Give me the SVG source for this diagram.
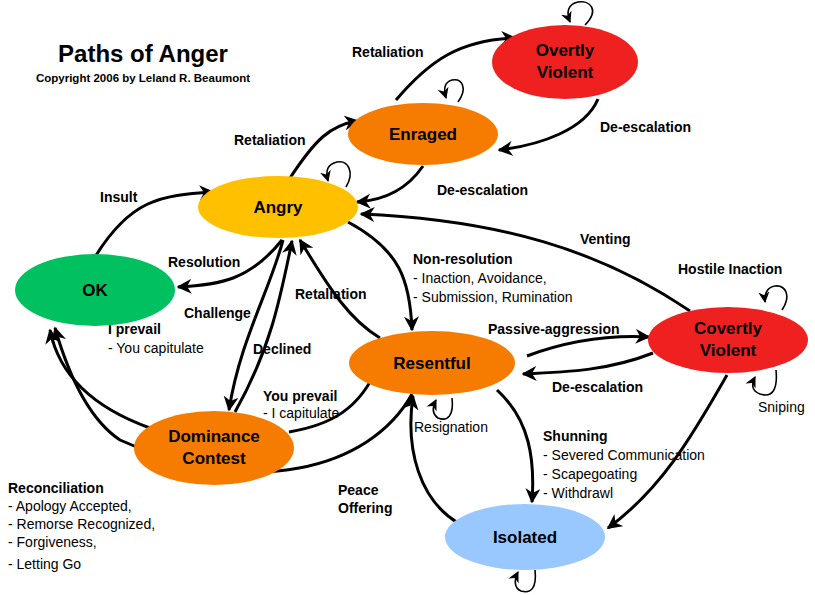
<svg xmlns="http://www.w3.org/2000/svg" width="815" height="595" viewBox="0 0 815 595">
<defs>
<marker id="ah" viewBox="0 0 10 10" refX="9" refY="5" markerWidth="5" markerHeight="5" orient="auto-start-reverse" markerUnits="strokeWidth">
<path d="M0,0 L10,5 L0,10 L3,5 Z" fill="#000"/>
</marker>
<marker id="ahs" viewBox="0 0 10 10" refX="9" refY="5" markerWidth="7" markerHeight="7" orient="auto" markerUnits="strokeWidth">
<path d="M0,0 L10,5 L0,10 L3,5 Z" fill="#000"/>
</marker>
</defs>
<style>
.e{fill:none;stroke:#000;stroke-width:3;marker-end:url(#ah)}
.l{fill:none;stroke:#000;stroke-width:1.6;marker-end:url(#ahs)}
text{font-family:"Liberation Sans",Arial,sans-serif;fill:#000}
.n{font-size:17px;font-weight:bold;text-anchor:middle}
.b{font-size:14px;font-weight:bold}
.r{font-size:14px}
</style>
<rect width="815" height="595" fill="#fff"/>
<text x="143" y="62" font-size="24" font-weight="bold" text-anchor="middle">Paths of Anger</text>
<text x="143" y="82" font-size="11.5" font-weight="bold" text-anchor="middle">Copyright 2006 by Leland R. Beaumont</text>

<g id="connectors">
<path class="e" d="M95,257 C130,200 160,195 213,192"/>
<path class="e" d="M282,240 C250,280 220,285 178,287"/>
<path class="e" d="M290,178 C315,140 330,125 358,121"/>
<path class="e" d="M396,100 C430,60 460,40 515,38"/>
<path class="e" d="M598,99 C585,130 540,145 499,150"/>
<path class="e" d="M423,166 C410,185 390,200 357,202"/>
<path class="e" d="M348,222 C400,250 410,280 412,330"/>
<path class="e" d="M380,338 C350,320 330,290 300,240"/>
<path class="e" d="M283,240 C270,290 240,340 229,410"/>
<path class="e" d="M235,412 C270,350 280,300 292,241"/>
<path class="e" d="M150,428 C100,410 60,380 50,330"/>
<path class="e" d="M289,432 C330,425 360,410 379,364"/>
<path class="e" d="M412,394 C370,470 250,500 120,440 C90,420 70,380 55,328"/>
<path class="e" d="M458,523 C420,500 405,450 413,396"/>
<path class="e" d="M497,390 C530,420 535,460 532,502"/>
<path class="e" d="M727,375 C690,440 660,490 608,528"/>
<path class="e" d="M690,311 C600,250 500,220 361,214"/>
<path class="e" d="M527,356 C570,340 610,335 649,337"/>
<path class="e" d="M653,353 C610,370 570,372 523,374"/>
<path class="l" d="M585,25 C600,10 590,0 578,2 C568,4 566,12 570,22"/>
<path class="l" d="M458,102 C468,88 462,78 452,80 C445,82 443,88 446,98"/>
<path class="l" d="M346,187 C355,172 348,160 337,162 C328,164 325,170 328,181"/>
<path class="l" d="M782,310 C792,295 785,285 775,286 C768,287 764,293 765,302"/>
<path class="l" d="M776,370 C778,390 772,398 760,394 C752,391 751,385 755,377"/>
<path class="l" d="M452,398 C454,415 448,422 438,418 C432,414 432,408 436,400"/>
<path class="l" d="M535,570 C537,588 531,594 521,591 C514,588 514,580 518,572"/>
</g>

<g id="labels">
<text class="b" x="100" y="202">Insult</text>
<text class="b" x="168" y="267">Resolution</text>
<text class="b" x="234" y="145">Retaliation</text>
<text class="b" x="352" y="57">Retaliation</text>
<text class="b" x="600" y="132">De-escalation</text>
<text class="b" x="437" y="195">De-escalation</text>
<text class="b" x="413" y="264">Non-resolution</text>
<text class="r" x="413" y="283">- Inaction, Avoidance,</text>
<text class="r" x="413" y="302">- Submission, Rumination</text>
<text class="b" x="295" y="299">Retaliation</text>
<text class="b" x="184" y="318">Challenge</text>
<text class="b" x="253" y="354">Declined</text>
<text class="b" x="108" y="334">I prevail</text>
<text class="r" x="108" y="353">- You capitulate</text>
<text class="b" x="263" y="401">You prevail</text>
<text class="r" x="263" y="418">- I capitulate</text>
<text class="b" x="8" y="493">Reconciliation</text>
<text class="r" x="8" y="511">- Apology Accepted,</text>
<text class="r" x="8" y="529">- Remorse Recognized,</text>
<text class="r" x="8" y="547">- Forgiveness,</text>
<text class="r" x="8" y="569">- Letting Go</text>
<text class="b" x="338" y="495">Peace</text>
<text class="b" x="338" y="513">Offering</text>
<text class="r" x="414" y="432">Resignation</text>
<text class="b" x="543" y="441">Shunning</text>
<text class="r" x="543" y="460">- Severed Communication</text>
<text class="r" x="543" y="479">- Scapegoating</text>
<text class="r" x="543" y="498">- Withdrawl</text>
<text class="b" x="580" y="244">Venting</text>
<text class="b" x="678" y="274">Hostile Inaction</text>
<text class="r" x="758" y="412">Sniping</text>
<text class="b" x="488" y="334">Passive-aggression</text>
<text class="b" x="552" y="392">De-escalation</text>
</g>

<g id="ok"><ellipse cx="95" cy="290" rx="80" ry="36" fill="#00c060"/><text class="n" x="95" y="296">OK</text></g>
<g id="angry"><ellipse cx="278" cy="207" rx="80" ry="31" fill="#ffc000"/><text class="n" x="278" y="213">Angry</text></g>
<g id="enraged"><ellipse cx="423" cy="134" rx="75" ry="31" fill="#f57c00"/><text class="n" x="423" y="140">Enraged</text></g>
<g id="overtly"><ellipse cx="565" cy="62" rx="73" ry="37" fill="#ee2020"/><text class="n" x="565" y="56">Overtly</text><text class="n" x="565" y="78">Violent</text></g>
<g id="resentful"><ellipse cx="432" cy="363" rx="83" ry="32" fill="#f57c00"/><text class="n" x="432" y="369">Resentful</text></g>
<g id="covertly"><ellipse cx="728" cy="340" rx="80" ry="33" fill="#ee2020"/><text class="n" x="728" y="334">Covertly</text><text class="n" x="728" y="356">Violent</text></g>
<g id="dominance"><ellipse cx="214" cy="448" rx="80" ry="37" fill="#f57c00"/><text class="n" x="214" y="442">Dominance</text><text class="n" x="214" y="464">Contest</text></g>
<g id="isolated"><ellipse cx="525" cy="537" rx="80" ry="33" fill="#99c8ff"/><text class="n" x="525" y="543">Isolated</text></g>
</svg>
